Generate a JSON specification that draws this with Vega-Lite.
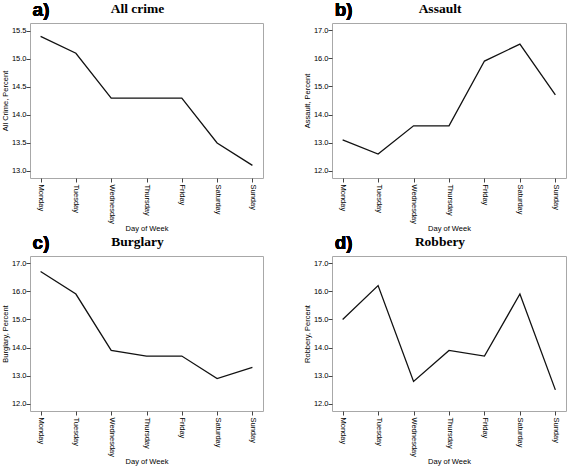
{
  "$schema": "https://vega.github.io/schema/vega-lite/v6.json",
  "padding": {"left": 0, "top": 0, "right": 1, "bottom": 0},
  "background": "white",
  "config": {
    "view": {"stroke": "#a8a8a8", "strokeWidth": 1},
    "axis": {
      "labelFont": "Liberation Sans",
      "titleFont": "Liberation Sans",
      "labelFontSize": 7.5,
      "titleFontSize": 7.5,
      "titleFontWeight": "normal",
      "labelColor": "#000",
      "titleColor": "#000",
      "tickColor": "#444",
      "tickSize": 4,
      "labelOverlap": false,
      "domain": false,
      "grid": false
    },
    "title": {
      "font": "Liberation Serif",
      "fontSize": 13.5,
      "fontWeight": "bold",
      "color": "#000",
      "anchor": "middle",
      "offset": -15,
      "dx": -9
    }
  },
  "datasets": {
    "crime": [
      {"crime": "All crime", "day": "Monday", "percent": 15.4},
      {"crime": "All crime", "day": "Tuesday", "percent": 15.1},
      {"crime": "All crime", "day": "Wednesday", "percent": 14.3},
      {"crime": "All crime", "day": "Thursday", "percent": 14.3},
      {"crime": "All crime", "day": "Friday", "percent": 14.3},
      {"crime": "All crime", "day": "Saturday", "percent": 13.5},
      {"crime": "All crime", "day": "Sunday", "percent": 13.1},
      {"crime": "Assault", "day": "Monday", "percent": 13.1},
      {"crime": "Assault", "day": "Tuesday", "percent": 12.6},
      {"crime": "Assault", "day": "Wednesday", "percent": 13.6},
      {"crime": "Assault", "day": "Thursday", "percent": 13.6},
      {"crime": "Assault", "day": "Friday", "percent": 15.9},
      {"crime": "Assault", "day": "Saturday", "percent": 16.5},
      {"crime": "Assault", "day": "Sunday", "percent": 14.7},
      {"crime": "Burglary", "day": "Monday", "percent": 16.7},
      {"crime": "Burglary", "day": "Tuesday", "percent": 15.9},
      {"crime": "Burglary", "day": "Wednesday", "percent": 13.9},
      {"crime": "Burglary", "day": "Thursday", "percent": 13.7},
      {"crime": "Burglary", "day": "Friday", "percent": 13.7},
      {"crime": "Burglary", "day": "Saturday", "percent": 12.9},
      {"crime": "Burglary", "day": "Sunday", "percent": 13.3},
      {"crime": "Robbery", "day": "Monday", "percent": 15.0},
      {"crime": "Robbery", "day": "Tuesday", "percent": 16.2},
      {"crime": "Robbery", "day": "Wednesday", "percent": 12.8},
      {"crime": "Robbery", "day": "Thursday", "percent": 13.9},
      {"crime": "Robbery", "day": "Friday", "percent": 13.7},
      {"crime": "Robbery", "day": "Saturday", "percent": 15.9},
      {"crime": "Robbery", "day": "Sunday", "percent": 12.5}
    ]
  },
  "columns": 2,
  "spacing": {"row": 0, "column": 38},
  "concat": [
    {
      "width": 233,
      "height": 155,
      "title": "All crime",
      "data": {"name": "crime"},
      "transform": [{"filter": "datum.crime == 'All crime'"}],
      "layer": [
        {
          "mark": {"type": "line", "color": "#111", "strokeWidth": 1.3},
          "encoding": {
            "x": {
              "field": "day", "type": "ordinal",
              "sort": ["Monday", "Tuesday", "Wednesday", "Thursday", "Friday", "Saturday", "Sunday"],
              "scale": {"type": "point", "padding": 0.3},
              "axis": {"title": "Day of Week", "labelAngle": 90, "labelPadding": 2, "titlePadding": 1}
            },
            "y": {
              "field": "percent", "type": "quantitative",
              "scale": {"domain": [12.875, 15.64], "nice": false, "zero": false},
              "axis": {"title": "All Crime, Percent", "values": [13.0, 13.5, 14.0, 14.5, 15.0, 15.5], "tickCount": 12, "format": ".1f", "labelPadding": 0, "titlePadding": 2}
            }
          }
        },
        {
          "mark": {"type": "text", "text": "a)", "font": "Liberation Sans", "fontSize": 19, "fontWeight": "bold", "align": "left", "baseline": "alphabetic", "dx": -8},
          "encoding": {
            "x": {"datum": "Monday"},
            "y": {"datum": 15.765}
          }
        }
      ]
    },
    {
      "width": 234,
      "height": 155,
      "title": "Assault",
      "data": {"name": "crime"},
      "transform": [{"filter": "datum.crime == 'Assault'"}],
      "layer": [
        {
          "mark": {"type": "line", "color": "#111", "strokeWidth": 1.3},
          "encoding": {
            "x": {
              "field": "day", "type": "ordinal",
              "sort": ["Monday", "Tuesday", "Wednesday", "Thursday", "Friday", "Saturday", "Sunday"],
              "scale": {"type": "point", "padding": 0.3},
              "axis": {"title": "Day of Week", "labelAngle": 90, "labelPadding": 2, "titlePadding": 1}
            },
            "y": {
              "field": "percent", "type": "quantitative",
              "scale": {"domain": [11.75, 17.25], "nice": false, "zero": false},
              "axis": {"title": "Assault, Percent", "values": [12, 13, 14, 15, 16, 17], "tickCount": 12, "format": ".1f", "labelPadding": 0, "titlePadding": 2}
            }
          }
        },
        {
          "mark": {"type": "text", "text": "b)", "font": "Liberation Sans", "fontSize": 19, "fontWeight": "bold", "align": "left", "baseline": "alphabetic", "dx": -8},
          "encoding": {
            "x": {"datum": "Monday"},
            "y": {"datum": 17.5}
          }
        }
      ]
    },
    {
      "width": 233,
      "height": 155,
      "title": "Burglary",
      "data": {"name": "crime"},
      "transform": [{"filter": "datum.crime == 'Burglary'"}],
      "layer": [
        {
          "mark": {"type": "line", "color": "#111", "strokeWidth": 1.3},
          "encoding": {
            "x": {
              "field": "day", "type": "ordinal",
              "sort": ["Monday", "Tuesday", "Wednesday", "Thursday", "Friday", "Saturday", "Sunday"],
              "scale": {"type": "point", "padding": 0.3},
              "axis": {"title": "Day of Week", "labelAngle": 90, "labelPadding": 2, "titlePadding": 1}
            },
            "y": {
              "field": "percent", "type": "quantitative",
              "scale": {"domain": [11.75, 17.25], "nice": false, "zero": false},
              "axis": {"title": "Burglary, Percent", "values": [12, 13, 14, 15, 16, 17], "tickCount": 12, "format": ".1f", "labelPadding": 0, "titlePadding": 2}
            }
          }
        },
        {
          "mark": {"type": "text", "text": "c)", "font": "Liberation Sans", "fontSize": 19, "fontWeight": "bold", "align": "left", "baseline": "alphabetic", "dx": -8},
          "encoding": {
            "x": {"datum": "Monday"},
            "y": {"datum": 17.5}
          }
        }
      ]
    },
    {
      "width": 234,
      "height": 155,
      "title": "Robbery",
      "data": {"name": "crime"},
      "transform": [{"filter": "datum.crime == 'Robbery'"}],
      "layer": [
        {
          "mark": {"type": "line", "color": "#111", "strokeWidth": 1.3},
          "encoding": {
            "x": {
              "field": "day", "type": "ordinal",
              "sort": ["Monday", "Tuesday", "Wednesday", "Thursday", "Friday", "Saturday", "Sunday"],
              "scale": {"type": "point", "padding": 0.3},
              "axis": {"title": "Day of Week", "labelAngle": 90, "labelPadding": 2, "titlePadding": 1}
            },
            "y": {
              "field": "percent", "type": "quantitative",
              "scale": {"domain": [11.75, 17.25], "nice": false, "zero": false},
              "axis": {"title": "Robbery, Percent", "values": [12, 13, 14, 15, 16, 17], "tickCount": 12, "format": ".1f", "labelPadding": 0, "titlePadding": 2}
            }
          }
        },
        {
          "mark": {"type": "text", "text": "d)", "font": "Liberation Sans", "fontSize": 19, "fontWeight": "bold", "align": "left", "baseline": "alphabetic", "dx": -8},
          "encoding": {
            "x": {"datum": "Monday"},
            "y": {"datum": 17.5}
          }
        }
      ]
    }
  ]
}
